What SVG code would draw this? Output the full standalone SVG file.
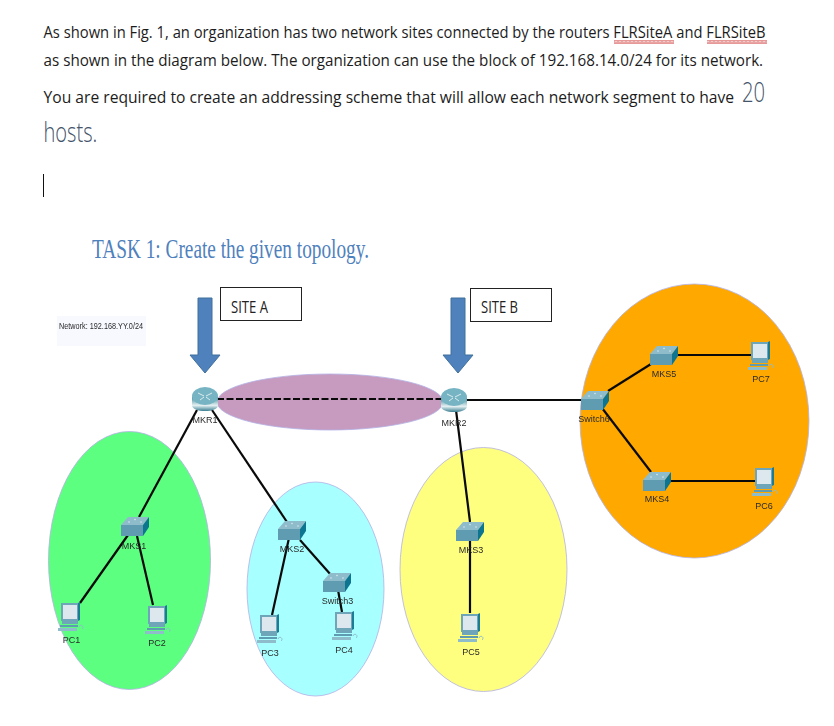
<svg xmlns="http://www.w3.org/2000/svg" width="834" height="726" viewBox="0 0 834 726">
<style>
.body{font-family:"Open Sans","Liberation Sans",sans-serif;font-size:17px;fill:#1c1c1c}
.big{font-family:"Open Sans","Liberation Sans",sans-serif;font-size:28px;fill:#44546a;font-weight:300}
.title{font-family:"Liberation Serif","DejaVu Serif",serif;font-size:27px;fill:#4f81bd}
.box{fill:#fff;stroke:#222;stroke-width:1}
.boxt{font-family:"Open Sans","Liberation Sans",sans-serif;font-size:16px;fill:#222}
.lab{font-family:"Liberation Sans",Arial,sans-serif;font-size:9px;fill:#2a2a2a;text-anchor:middle;filter:url(#soft)}
.net{font-family:"Liberation Sans",Arial,sans-serif;font-size:9px;fill:#2a2a2a;filter:url(#soft)}
.link{stroke:#0a0a0a;stroke-width:2.2;fill:none}
.arrow{fill:#4f81bd;stroke:#41719c;stroke-width:1}
.zone{stroke:#b3b0e4;stroke-width:.8}
.icon{filter:url(#soft)}
</style>
<defs>
<filter id="soft" x="-20%" y="-20%" width="140%" height="140%"><feGaussianBlur stdDeviation=".35"/></filter>
<pattern id="sq" width="4" height="3" patternUnits="userSpaceOnUse"><path d="M0 2.500L1 .5L2 2.500L3 .5L4 2.500" fill="none" stroke="#c81818" stroke-width=".9"/></pattern>
<linearGradient id="rg" x1="0" y1="0" x2="0" y2="1"><stop offset="0" stop-color="#3f8a9a"/><stop offset=".6" stop-color="#e4f0f2"/><stop offset="1" stop-color="#3a7f92"/></linearGradient>
<symbol id="sw" viewBox="0 0 28 19" width="28" height="19" overflow="visible">
<path d="M0 8L7 0H28L22 8Z" fill="#8fbccb"/><path d="M0 8H22V19H0Z" fill="#5f9cb2"/><path d="M22 8L28 0V10L22 19Z" fill="#0f7590"/>
<circle cx="8" cy="5" r=".7" fill="#e8f2f5"/><circle cx="14" cy="2.500" r=".7" fill="#e8f2f5"/><circle cx="20" cy="5" r=".7" fill="#e8f2f5"/>
</symbol>
<symbol id="pc" viewBox="0 0 25 28" width="25" height="28" overflow="visible">
<path d="M3 0H20V18H3Z" fill="#6ea5b8"/><path d="M20 0L22 -1V17L20 18Z" fill="#1f7c96"/><path d="M5 2H19V16H5Z" fill="#dde8ee"/>
<path d="M4 18H20V21H4Z" fill="#6ea5b8"/><path d="M2 22H20V24H2Z" fill="#5f9cb2"/><path d="M0 25H19V28H0Z" fill="#8fbccb"/>
<path d="M21 24a2 2 0 1 1 3 2" fill="none" stroke="#8fbccb"/>
</symbol>
<symbol id="rt" viewBox="0 0 26 24" width="26" height="24" overflow="visible">
<path d="M0 10V18C0 22 6 24 13 24S26 22 26 18V10Z" fill="url(#rg)"/>
<ellipse cx="13" cy="9" rx="13" ry="9" fill="#76b3c3"/>
<path d="M6 6L12 9M20 6L14 9M8 13L12 10M18 13L14 10" stroke="#dcecef" stroke-width="1"/>
</symbol>
</defs>

<g id="question-text">
<text class="body" transform="translate(43.5 38) scale(.83 1)" textLength="870" lengthAdjust="spacingAndGlyphs">As shown in Fig. 1, an organization has two network sites connected by the routers FLRSiteA and FLRSiteB</text>
<rect x="614" y="40.5" width="60" height="3" fill="url(#sq)"/>
<rect x="707" y="40.5" width="60" height="3" fill="url(#sq)"/>
<text class="body" transform="translate(43.5 65.5) scale(.83 1)" textLength="867" lengthAdjust="spacingAndGlyphs">as shown in the diagram below. The organization can use the block of 192.168.14.0/24 for its network.</text>
<text class="body" transform="translate(43.5 103) scale(.83 1)" textLength="832" lengthAdjust="spacingAndGlyphs">You are required to create an addressing scheme that will allow each network segment to have</text>
<text class="big" transform="translate(742 102) scale(.72 1)" textLength="32" lengthAdjust="spacingAndGlyphs">20</text>
<text class="big" transform="translate(43.5 142) scale(.69 1)" textLength="78" lengthAdjust="spacingAndGlyphs">hosts.</text>
<path d="M43.5 174V197" stroke="#111" stroke-width="1"/>
<text class="title" x="92" y="258" textLength="277" lengthAdjust="spacingAndGlyphs">TASK 1: Create the given topology.</text>
</g>

<g id="network-note">
<rect x="57" y="316" width="89" height="30" fill="#f8f9ff"/>
<text class="net" x="59" y="329" textLength="84" lengthAdjust="spacingAndGlyphs">Network: 192.168.YY.0/24</text>
</g>

<g id="zones">
<ellipse id="zone-wan" class="zone" cx="330" cy="402" rx="113" ry="28" fill="#c79bbf"/>
<ellipse id="zone-green" class="zone" cx="129.500" cy="560.500" rx="81" ry="129" fill="#5cff80"/>
<ellipse id="zone-cyan" class="zone" cx="315.500" cy="589" rx="68.500" ry="107" fill="#a8ffff"/>
<ellipse id="zone-yellow" class="zone" cx="483.500" cy="569.500" rx="83.500" ry="122" fill="#ffff7f"/>
<ellipse id="zone-orange" class="zone" cx="694.500" cy="421" rx="114.500" ry="137" fill="#ffa900"/>
</g>

<g id="connectors">
<path class="link" d="M217 399H443" stroke-dasharray="7 2.500"/>
<path class="link" d="M197 410L139 517"/>
<path class="link" d="M212 410L287 522"/>
<path class="link" d="M128 535L80 603"/>
<path class="link" d="M137 536L153 605"/>
<path class="link" d="M289 538L272 615"/>
<path class="link" d="M300 540L331 575"/>
<path class="link" d="M338 590L342 612"/>
<path class="link" d="M456 410L470 522"/>
<path class="link" d="M470 540V613"/>
<path class="link" d="M466 400H582"/>
<path class="link" d="M608 391L651 364"/>
<path class="link" d="M602 408L651 472"/>
<path class="link" d="M677 355H752"/>
<path class="link" d="M671 481H755"/>
</g>

<g id="site-a-arrow"><path class="arrow" d="M198 298H212V355H220L205 373L190 355H198Z"/></g>
<g id="site-b-arrow"><path class="arrow" d="M451 298H465V355H473L458 373L443 355H451Z"/></g>
<g id="site-a"><rect class="box" x="220.500" y="287.500" width="81" height="33"/><text class="boxt" x="231" y="313" textLength="37" lengthAdjust="spacingAndGlyphs">SITE A</text></g>
<g id="site-b"><rect class="box" x="470.500" y="288.500" width="81" height="33"/><text class="boxt" x="481" y="313" textLength="37" lengthAdjust="spacingAndGlyphs">SITE B</text></g>

<g id="mkr1"><use class="icon" href="#rt" x="192" y="387"/><text class="lab" x="205" y="423">MKR1</text></g>
<g id="mkr2"><use class="icon" href="#rt" x="441" y="388"/><text class="lab" x="454" y="426">MKR2</text></g>
<g id="mks1"><use class="icon" href="#sw" x="121" y="517"/><text class="lab" x="134" y="549">MKS1</text></g>
<g id="mks2"><use class="icon" href="#sw" x="278" y="521"/><text class="lab" x="292" y="552">MKS2</text></g>
<g id="switch3"><use class="icon" href="#sw" x="323" y="573"/><text class="lab" x="337.500" y="604">Switch3</text></g>
<g id="mks3"><use class="icon" href="#sw" x="456" y="522"/><text class="lab" x="471" y="553">MKS3</text></g>
<g id="switch6"><use class="icon" href="#sw" x="581" y="391"/><text class="lab" x="594" y="422">Switch6</text></g>
<g id="mks5"><use class="icon" href="#sw" x="650" y="346"/><text class="lab" x="664" y="377">MKS5</text></g>
<g id="mks4"><use class="icon" href="#sw" x="643" y="472"/><text class="lab" x="657" y="502">MKS4</text></g>
<g id="pc1"><use class="icon" href="#pc" x="58" y="603"/><text class="lab" x="71.500" y="643">PC1</text></g>
<g id="pc2"><use class="icon" href="#pc" x="145" y="606"/><text class="lab" x="157" y="646">PC2</text></g>
<g id="pc3"><use class="icon" href="#pc" x="257" y="615"/><text class="lab" x="270" y="656">PC3</text></g>
<g id="pc4"><use class="icon" href="#pc" x="332" y="612"/><text class="lab" x="344" y="653">PC4</text></g>
<g id="pc5"><use class="icon" href="#pc" x="458" y="614"/><text class="lab" x="471" y="655">PC5</text></g>
<g id="pc7"><use class="icon" href="#pc" x="748" y="342"/><text class="lab" x="761" y="382">PC7</text></g>
<g id="pc6"><use class="icon" href="#pc" x="752" y="468"/><text class="lab" x="764" y="509">PC6</text></g>
</svg>
